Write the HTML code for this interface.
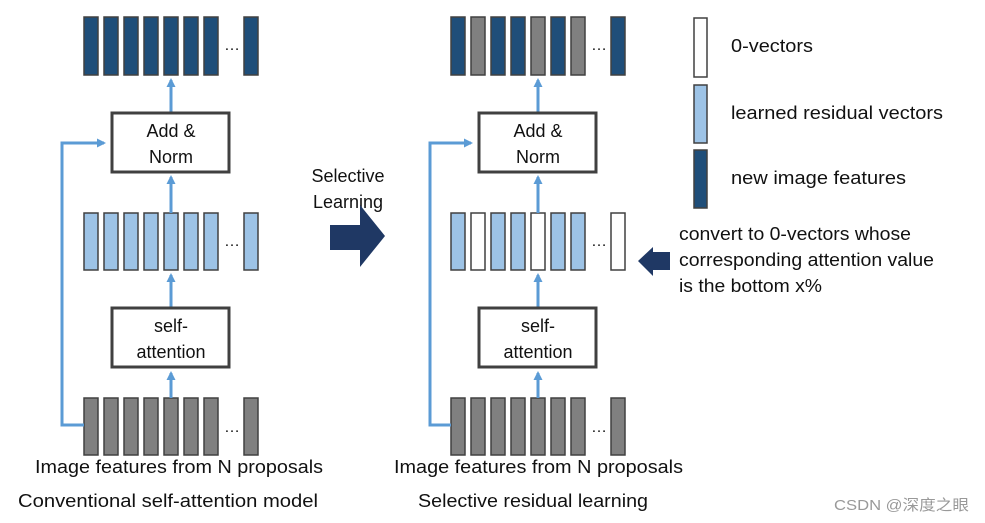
<!DOCTYPE html>
<html><head><meta charset="utf-8"><style>
html,body{margin:0;padding:0;background:#fff;}
svg{display:block;}
text{font-family:"Liberation Sans","Noto Sans CJK SC",sans-serif;fill:#111;}
</style></head><body>
<svg width="985" height="523" viewBox="0 0 985 523" xmlns="http://www.w3.org/2000/svg">
<defs>
<marker id="ah" markerWidth="9" markerHeight="9" refX="7" refY="4.5" orient="auto" markerUnits="userSpaceOnUse">
<path d="M0,0 L9,4.5 L0,9 z" fill="#5b9bd5"/></marker>
</defs>
<g stroke="#404040" stroke-width="1.5">
<g fill="#1f4e79">
<rect x="84" y="17" width="14" height="58"/><rect x="104" y="17" width="14" height="58"/><rect x="124" y="17" width="14" height="58"/><rect x="144" y="17" width="14" height="58"/><rect x="164" y="17" width="14" height="58"/><rect x="184" y="17" width="14" height="58"/><rect x="204" y="17" width="14" height="58"/><rect x="244" y="17" width="14" height="58"/>
</g>
<g fill="#9dc3e6">
<rect x="84" y="213" width="14" height="57"/><rect x="104" y="213" width="14" height="57"/><rect x="124" y="213" width="14" height="57"/><rect x="144" y="213" width="14" height="57"/><rect x="164" y="213" width="14" height="57"/><rect x="184" y="213" width="14" height="57"/><rect x="204" y="213" width="14" height="57"/><rect x="244" y="213" width="14" height="57"/>
</g>
<g fill="#808080">
<rect x="84" y="398" width="14" height="57"/><rect x="104" y="398" width="14" height="57"/><rect x="124" y="398" width="14" height="57"/><rect x="144" y="398" width="14" height="57"/><rect x="164" y="398" width="14" height="57"/><rect x="184" y="398" width="14" height="57"/><rect x="204" y="398" width="14" height="57"/><rect x="244" y="398" width="14" height="57"/>
</g>
<rect x="451" y="17" width="14" height="58" fill="#1f4e79"/><rect x="471" y="17" width="14" height="58" fill="#808080"/><rect x="491" y="17" width="14" height="58" fill="#1f4e79"/><rect x="511" y="17" width="14" height="58" fill="#1f4e79"/><rect x="531" y="17" width="14" height="58" fill="#808080"/><rect x="551" y="17" width="14" height="58" fill="#1f4e79"/><rect x="571" y="17" width="14" height="58" fill="#808080"/><rect x="611" y="17" width="14" height="58" fill="#1f4e79"/>
<rect x="451" y="213" width="14" height="57" fill="#9dc3e6"/><rect x="471" y="213" width="14" height="57" fill="#fff"/><rect x="491" y="213" width="14" height="57" fill="#9dc3e6"/><rect x="511" y="213" width="14" height="57" fill="#9dc3e6"/><rect x="531" y="213" width="14" height="57" fill="#fff"/><rect x="551" y="213" width="14" height="57" fill="#9dc3e6"/><rect x="571" y="213" width="14" height="57" fill="#9dc3e6"/><rect x="611" y="213" width="14" height="57" fill="#fff"/>
<g fill="#808080">
<rect x="451" y="398" width="14" height="57"/><rect x="471" y="398" width="14" height="57"/><rect x="491" y="398" width="14" height="57"/><rect x="511" y="398" width="14" height="57"/><rect x="531" y="398" width="14" height="57"/><rect x="551" y="398" width="14" height="57"/><rect x="571" y="398" width="14" height="57"/><rect x="611" y="398" width="14" height="57"/>
</g>
<rect x="694" y="18" width="13" height="59" fill="#fff"/>
<rect x="694" y="85" width="13" height="58" fill="#9dc3e6"/>
<rect x="694" y="150" width="13" height="58" fill="#1f4e79"/>
</g>
<g stroke="#5b9bd5" stroke-width="3" fill="none">
<path d="M171,112 V80" marker-end="url(#ah)"/>
<path d="M171,213 V177" marker-end="url(#ah)"/>
<path d="M171,307 V275" marker-end="url(#ah)"/>
<path d="M171,398 V373" marker-end="url(#ah)"/>
<path d="M84,425 H62 V143 H104" marker-end="url(#ah)"/>
<path d="M538,112 V80" marker-end="url(#ah)"/>
<path d="M538,213 V177" marker-end="url(#ah)"/>
<path d="M538,307 V275" marker-end="url(#ah)"/>
<path d="M538,398 V373" marker-end="url(#ah)"/>
<path d="M451,425 H430 V143 H471" marker-end="url(#ah)"/>
</g>
<g fill="#fff" stroke="#404040" stroke-width="3">
<rect x="112" y="113" width="117" height="59"/>
<rect x="112" y="308" width="117" height="59"/>
<rect x="479" y="113" width="117" height="59"/>
<rect x="479" y="308" width="117" height="59"/>
</g>
<g font-size="18" text-anchor="middle">
<text x="171" y="137">Add &amp;</text><text x="171" y="163">Norm</text>
<text x="171" y="332">self-</text><text x="171" y="358">attention</text>
<text x="538" y="137">Add &amp;</text><text x="538" y="163">Norm</text>
<text x="538" y="332">self-</text><text x="538" y="358">attention</text>
<text x="348" y="182">Selective</text><text x="348" y="208">Learning</text>
</g>
<g font-size="16" text-anchor="middle">
<text x="232" y="50">…</text><text x="232" y="246">…</text><text x="232" y="432">…</text>
<text x="599" y="50">…</text><text x="599" y="246">…</text><text x="599" y="432">…</text>
</g>
<path d="M330,225 H360 V205 L385,236 L360,267 V250 H330 Z" fill="#1f3864"/>
<path d="M670,252 H653 V247 L638,261 L653,276 V270 H670 Z" fill="#1f3864"/>
<g font-size="18">
<text x="731" y="52" textLength="82" lengthAdjust="spacingAndGlyphs">0-vectors</text>
<text x="731" y="119" textLength="212" lengthAdjust="spacingAndGlyphs">learned residual vectors</text>
<text x="731" y="184" textLength="175" lengthAdjust="spacingAndGlyphs">new image features</text>
<text x="679" y="240" textLength="232" lengthAdjust="spacingAndGlyphs">convert to 0-vectors whose</text>
<text x="679" y="266" textLength="255" lengthAdjust="spacingAndGlyphs">corresponding attention value</text>
<text x="679" y="292" textLength="143" lengthAdjust="spacingAndGlyphs">is the bottom x%</text>
<text x="35" y="473" textLength="288" lengthAdjust="spacingAndGlyphs">Image features from N proposals</text>
<text x="18" y="507" textLength="300" lengthAdjust="spacingAndGlyphs">Conventional self-attention model</text>
<text x="394" y="473" textLength="289" lengthAdjust="spacingAndGlyphs">Image features from N proposals</text>
<text x="418" y="507" textLength="230" lengthAdjust="spacingAndGlyphs">Selective residual learning</text>
</g>
<text x="834" y="510" font-size="15" style="fill:#999" textLength="135" lengthAdjust="spacingAndGlyphs">CSDN @深度之眼</text>
</svg>
</body></html>
